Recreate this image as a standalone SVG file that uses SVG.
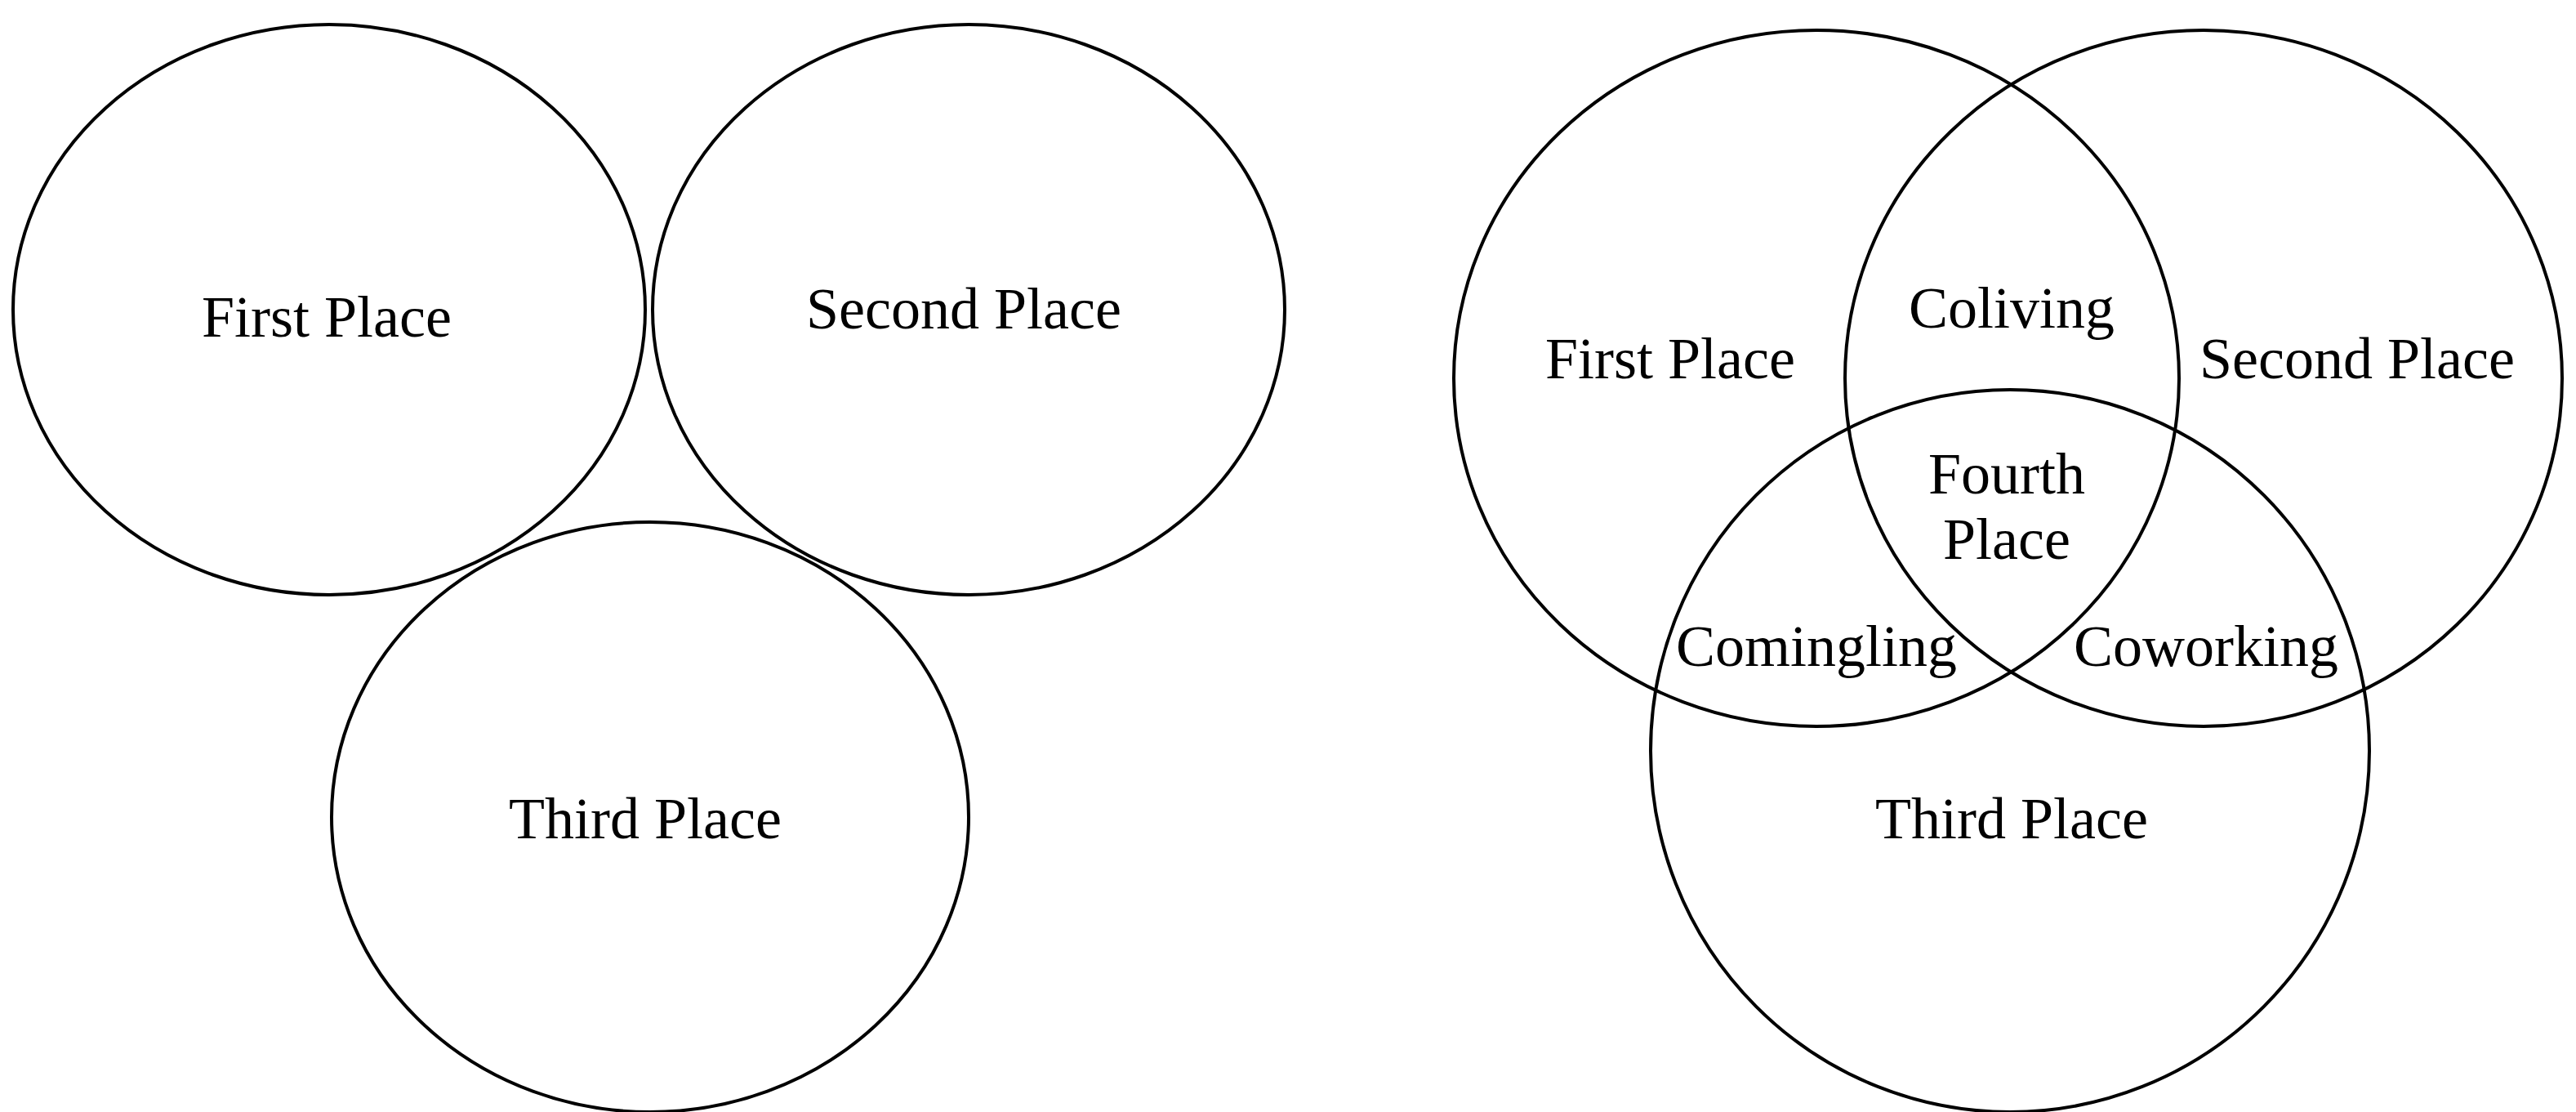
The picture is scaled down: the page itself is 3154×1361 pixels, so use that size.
<svg xmlns="http://www.w3.org/2000/svg" width="3154" height="1361" viewBox="0 0 3154 1361">
<style>
ellipse{fill:none;stroke:#000;stroke-width:4}
text{font-family:"Liberation Serif","Times New Roman",serif;font-size:72px;text-anchor:middle;fill:#000}
</style>
<rect width="3154" height="1361" fill="#fff"/>
<g id="left">
<g id="l-first"><ellipse cx="403" cy="379" rx="387" ry="349"/><text x="400" y="412">First Place</text></g>
<g id="l-second"><ellipse cx="1186" cy="379" rx="387" ry="349"/><text x="1180" y="402">Second Place</text></g>
<g id="l-third"><ellipse cx="796" cy="1000" rx="390" ry="361"/><text x="790" y="1026">Third Place</text></g>
</g>
<g id="right">
<g id="r-first"><ellipse cx="2224" cy="463" rx="444" ry="426"/><text x="2045" y="463">First Place</text></g>
<g id="r-second"><ellipse cx="2698" cy="463" rx="439" ry="426"/><text x="2886" y="463">Second Place</text></g>
<g id="r-third"><ellipse cx="2461" cy="919" rx="440" ry="442"/><text x="2463" y="1026">Third Place</text></g>
<g id="r-coliving"><text x="2463" y="401">Coliving</text></g>
<g id="r-fourth"><text x="2457" y="604">Fourth</text><text x="2457" y="684">Place</text></g>
<g id="r-comingling"><text x="2224" y="815">Comingling</text></g>
<g id="r-coworking"><text x="2701" y="815">Coworking</text></g>
</g>
<g id="connectors"/>
</svg>
